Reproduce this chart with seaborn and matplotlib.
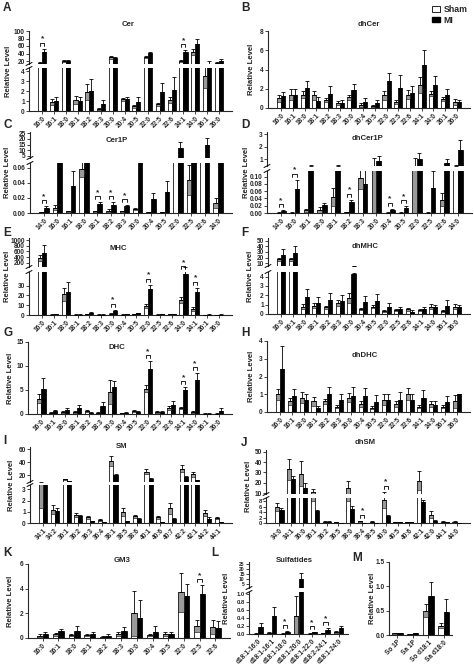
import numpy as np
import pandas as pd
import matplotlib
matplotlib.use('Agg')
import matplotlib.pyplot as plt
import seaborn as sns
from matplotlib.lines import Line2D
from matplotlib.patches import Patch

# ---------------- data ----------------
cer_lipids = ['16:0', '16:1', '18:0', '18:1', '18:2', '18:3', '20:0', '20:4',
              '20:5', '22:0', '22:5', '22:6', '24:1', '24:0', '26:1', '26:0']
mhc_lipids = ['16:0', '16:1', '18:0', '18:1', '18:2', '18:3', '20:0', '20:4',
              '20:5', '22:0', '22:5', '22:6', '24:0', '24:1', '26:1', '26:0']
cer1p_lipids = ['14:0', '16:0', '16:1', '18:0', '18:1', '18:2', '18:3', '20:0',
                '20:4', '20:5', '22:0', '22:5', '22:6', '24:0']
sm_lipids = ['34:1', '34:2', '36:1', '36:2', '36:3', '36:4', '38:1', '38:5',
             '38:6', '40:1', '40:6', '40:7', '42:2', '42:1', '44:2', '44:1']
dhsm_lipids = ['34:0', '34:1', '36:0', '36:1', '36:2', '36:5', '38:0', '38:4',
               '38:5', '40:0', '40:5', '40:6', '42:1', '42:0', '44:1', '44:0']
gm3_lipids = ['16:0', '16:1', '18:0', '18:1', '18:2', '18:3', '20:0', '20:4',
              '20:5', '22:0', '22:5', '22:6']
sulf_lipids = ['d18:1-16:0', 'd18:1-16:1', 'd18:1-18:0', 'd18:1-20:0',
               'd18:1-22:0', 'd18:2-24:1', 'd18:1-24:0']
sph_lipids = ['So 1P', 'Sa 1P', 'So d18:1', 'Sa d18:0']

# A  Cer
cer_sham = [16, 0.9, 20, 1.1, 1.9, 0.2, 30, 1.2, 0.5, 30, 0.7, 1.1, 20, 45, 3.5, 15]
cer_sham_err = [2, 0.3, 2, 0.4, 0.8, 0.1, 4, 0.15, 0.15, 3, 0.15, 0.3, 2, 8, 1.2, 1.5]
cer_mi = [45, 1.0, 20, 1.0, 2.0, 0.7, 28, 1.2, 0.9, 42, 1.9, 2.1, 45, 65, 10, 20]
cer_mi_err = [8, 0.4, 1.5, 0.4, 1.2, 0.4, 2, 0.2, 0.5, 3, 0.9, 1.3, 5, 15, 10, 5]
cer_sig = ['16:0', '24:1']

# B  dhCer
dhcer_sham = [1.0, 1.4, 1.4, 1.3, 0.8, 0.5, 1.1, 0.3, 0.2, 1.3, 0.6, 1.4, 2.4, 1.5, 0.9, 0.6]
dhcer_sham_err = [0.4, 0.6, 0.4, 0.5, 0.2, 0.2, 0.3, 0.2, 0.1, 0.5, 0.2, 0.5, 0.8, 0.3, 0.2, 0.3]
dhcer_mi = [1.2, 1.35, 2.1, 0.7, 1.5, 0.5, 1.9, 0.6, 0.5, 2.8, 2.1, 1.6, 4.5, 2.4, 1.4, 0.6]
dhcer_mi_err = [0.5, 0.6, 0.7, 0.4, 0.8, 0.3, 0.6, 0.4, 0.3, 0.8, 1.3, 0.7, 1.5, 0.9, 0.6, 0.2]
dhcer_sig = []

# C  Cer1P
cer1p_sham = [0.001, 0.007, 0.002, 0.058, 0.002, 0.003, 0.002, 0.005, 0.001, 0.001,
              1.0, 0.044, 1.0, 0.013]
cer1p_sham_err = [0.0005, 0.003, 0.001, 0.01, 0.001, 0.002, 0.001, 0.001, 0.0005, 0.0005,
                  0.2, 0.02, 0.2, 0.007]
cer1p_mi = [0.007, 1.0, 0.036, 1.0, 0.012, 0.011, 0.009, 1.0, 0.019, 0.028,
            12, 1.0, 15, 1.0]
cer1p_mi_err = [0.002, 0.2, 0.02, 0.2, 0.002, 0.003, 0.001, 0.2, 0.008, 0.014,
                5, 0.2, 6, 0.2]
cer1p_sig = ['14:0', '18:1', '18:2', '18:3']

# D  dhCer1P
dhcer1p_sham = [0.001, 0.001, 0.007, 0.008, 0.045, 0.002, 0.095, 0.3, 0.001, 0.001,
                0.3, 0.001, 0.037, 0.5]
dhcer1p_sham_err = [0.0005, 0.0005, 0.004, 0.008, 0.025, 0.001, 0.03, 0.8, 0.0005, 0.0005,
                    0.8, 0.0005, 0.018, 0.05]
dhcer1p_mi = [0.006, 0.065, 0.5, 0.022, 0.5, 0.029, 0.08, 0.9, 0.009, 0.014,
              1.0, 0.07, 0.7, 1.7]
dhcer1p_mi_err = [0.002, 0.027, 0.05, 0.006, 0.05, 0.008, 0.045, 0.4, 0.003, 0.005,
                  0.5, 0.045, 0.3, 0.8]
dhcer1p_sig = ['14:0', '16:0', '18:2', '20:4', '20:5']

# E  MHC
mhc_sham = [380, 0.5, 21, 0.5, 1.0, 0.5, 1.5, 0.5, 1.0, 9, 0.5, 0.8, 15, 6, 0.3, 0.3]
mhc_sham_err = [100, 0.2, 7, 0.2, 0.5, 0.2, 0.5, 0.2, 0.4, 2, 0.2, 0.3, 3, 2, 0.1, 0.1]
mhc_mi = [560, 0.7, 24, 0.5, 2.0, 0.5, 4.5, 1.0, 2.0, 27, 1.0, 1.0, 42, 24, 0.5, 0.4]
mhc_mi_err = [250, 0.3, 10, 0.2, 1.0, 0.2, 1.0, 0.4, 0.5, 4, 0.4, 0.3, 3, 4, 0.2, 0.2]
mhc_sig = ['20:0', '22:0', '24:0', '24:1']

# F  dhMHC
dhmhc_sham = [17, 17, 0.8, 0.9, 0.7, 1.2, 1.7, 0.5, 0.8, 0.35, 0.4, 0.5, 0.4, 0.8, 0.3, 0.8]
dhmhc_sham_err = [3, 3, 0.3, 0.3, 0.2, 0.3, 0.5, 0.1, 0.2, 0.1, 0.1, 0.15, 0.1, 0.3, 0.1, 0.3]
dhmhc_mi = [25, 28, 1.8, 1.2, 1.5, 1.4, 4.25, 1.3, 1.4, 0.8, 0.5, 0.25, 0.5, 0.7, 0.9, 0.7]
dhmhc_mi_err = [10, 12, 0.9, 0.6, 0.7, 0.6, 0.1, 0.6, 0.7, 0.4, 0.3, 0.2, 0.3, 0.3, 0.6, 0.3]
dhmhc_sig = []

# G  DHC
dhc_sham = [3.2, 0.3, 0.4, 0.5, 0.6, 0.3, 4.5, 0.2, 0.6, 5.3, 0.4, 1.3, 1.2, 0.4, 0.1, 0.1]
dhc_sham_err = [1.0, 0.1, 0.2, 0.2, 0.2, 0.2, 2.5, 0.1, 0.2, 0.8, 0.2, 0.4, 0.2, 0.2, 0.05, 0.05]
dhc_mi = [5.2, 0.6, 0.8, 1.2, 0.3, 1.6, 5.7, 0.3, 0.4, 9.3, 0.5, 1.8, 5.0, 7.0, 0.1, 0.7]
dhc_mi_err = [2.3, 0.3, 0.4, 0.6, 0.2, 1.0, 1.2, 0.2, 0.2, 1.7, 0.2, 0.9, 0.6, 1.5, 0.05, 0.5]
dhc_sig = ['22:0', '24:1', '24:0']

# H  dhDHC
dhdhc_sham = [1.0, 0.6, 0.8, 0.6, 0.6, 0.3, 0.8, 0.45, 0.25, 0.7, 0.45, 1.0, 0.3, 0.45, 0.3, 0.6]
dhdhc_sham_err = [0.3, 0.2, 0.3, 0.25, 0.15, 0.1, 0.25, 0.15, 0.1, 0.3, 0.15, 0.35, 0.1, 0.15, 0.1, 0.35]
dhdhc_mi = [2.4, 0.9, 0.7, 0.25, 1.0, 0.7, 0.9, 0.9, 0.55, 0.7, 0.7, 0.65, 0.8, 0.4, 0.55, 1.0]
dhdhc_mi_err = [1.3, 0.4, 0.3, 0.1, 0.4, 0.3, 0.5, 0.45, 0.4, 0.3, 0.4, 0.35, 0.45, 0.2, 0.35, 0.0]
dhdhc_sig = []

# I  SM
sm_sham = [5, 1.2, 13, 0.7, 0.5, 0.3, 42, 1.0, 0.6, 25, 0.5, 1.3, 30, 21, 0.9, 0.45]
sm_sham_err = [3.7, 0.4, 1, 0.15, 0.15, 0.1, 8, 0.35, 0.15, 4, 0.15, 0.5, 5, 4, 0.3, 0.1]
sm_mi = [5, 1.1, 10.5, 0.6, 0.15, 0.1, 20, 0.15, 0.35, 14, 0.05, 0.35, 17, 12, 0.4, 0.1]
sm_mi_err = [0.5, 0.2, 0.5, 0.1, 0.05, 0.03, 2, 0.05, 0.1, 1, 0.02, 0.1, 1, 0.5, 0.1, 0.03]
sm_sig = []

# J  dhSM
dhsm_sham = [5.7, 33, 29, 11, 0.5, 0.3, 15, 0.6, 0.5, 8.5, 0.4, 0.4, 22, 3.0, 0.5, 0.5]
dhsm_sham_err = [1.5, 10, 12, 3, 0.1, 0.1, 7, 0.3, 0.2, 3, 0.1, 0.1, 9, 1.3, 0.1, 0.1]
dhsm_mi = [4.6, 24, 15, 4.2, 0.5, 0.1, 5, 0.05, 0.05, 2.4, 0.3, 0.2, 7.5, 0.9, 0.2, 0.1]
dhsm_mi_err = [0.7, 3, 5, 0.7, 0.1, 0.05, 1.2, 0.02, 0.02, 0.6, 0.1, 0.05, 1, 0.2, 0.05, 0.05]
dhsm_sig = ['38:4', '40:0']

# K  GM3
gm3_sham = [0.2, 0.3, 0.25, 0.25, 0.1, 0.35, 2.0, 0.25, 0.3, 3.7, 1.0, 0.9]
gm3_sham_err = [0.1, 0.1, 0.1, 0.1, 0.05, 0.15, 1.8, 0.1, 0.15, 1.6, 0.5, 0.6]
gm3_mi = [0.3, 0.6, 0.6, 0.3, 0.2, 0.55, 1.6, 0.5, 0.3, 3.4, 3.6, 0.8]
gm3_mi_err = [0.15, 0.15, 0.35, 0.2, 0.15, 0.35, 1.5, 0.5, 0.2, 1.0, 0.7, 0.6]
gm3_sig = ['22:5']

# L  Sulfatides
sulf_sham = [0.01, 0.03, 0.01, 0.46, 0.01, 0.02, 0.05]
sulf_sham_err = [0.005, 0.01, 0.005, 0.5, 0.005, 0.01, 0.02]
sulf_mi = [0.18, 0.45, 0.06, 10, 0.04, 0.1, 0.16]
sulf_mi_err = [0.1, 0.22, 0.02, 6, 0.01, 0.04, 0.05]
sulf_sig = ['d18:1-18:0', 'd18:1-22:0', 'd18:2-24:1']

# M  sphingoid bases
sph_sham = [0.04, 0.02, 0.5, 0.19]
sph_sham_err = [0.01, 0.005, 0.14, 0.05]
sph_mi = [0.04, 0.04, 0.8, 0.48]
sph_mi_err = [0.01, 0.01, 0.28, 0.27]
sph_sig = []

# ---------------- style ----------------
sns.set_style('ticks')
plt.rcParams['font.family'] = ['Liberation Sans', 'DejaVu Sans']
plt.rcParams['font.weight'] = 'bold'
plt.rcParams['axes.linewidth'] = 0.8

W, H = 474, 669
fig = plt.figure(figsize=(W / 100, H / 100), dpi=100)
TICK_FS = 4.7


def px_axes(x0, x1, ytop, ybot):
    return fig.add_axes([x0 / W, 1 - ybot / H, (x1 - x0) / W, (ybot - ytop) / H])


def fig_xy(x, y):
    return x / W, 1 - y / H


def draw_bars(ax, cats, sham, sham_err, mi, mi_err):
    n = len(cats)
    df = pd.DataFrame({'lipid': cats * 2,
                       'group': ['Sham'] * n + ['MI'] * n,
                       'value': sham + mi})
    sns.barplot(data=df, x='lipid', y='value', hue='group', order=cats,
                hue_order=['Sham', 'MI'], palette={'Sham': 'white', 'MI': 'black'},
                edgecolor='black', linewidth=0.55, width=0.7, errorbar=None,
                legend=False, ax=ax)
    pos = []
    for k, (cont, means, errs) in enumerate(zip(ax.containers, [sham, mi], [sham_err, mi_err])):
        xs = np.array([p.get_x() + p.get_width() / 2 for p in cont.patches])
        w = cont.patches[0].get_width()
        means = np.array(means)
        errs = np.array(errs)
        if k == 0:
            # grey band showing the lower half of the SEM inside the open bars
            low = np.clip(means - errs, 0, None)
            ax.bar(xs, means - low, bottom=low, width=w, color='#999999',
                   edgecolor='black', linewidth=0.4, zorder=1.5)
        ax.errorbar(xs, means, yerr=[np.zeros_like(errs), errs], fmt='none',
                    ecolor='black', elinewidth=0.6, capsize=1.1, capthick=0.6, zorder=3)
        pos.append(xs)
    return pos


def add_panel(spec, cats, sham, sham_err, mi, mi_err, sig):
    axes, segs = [], spec['segs']
    seg_fs = spec.get('seg_fs', [TICK_FS] * len(segs))
    pos = None
    for k, (yt, yb, lo, hi, ticks, labels) in enumerate(segs):
        ax = px_axes(spec['x0'], spec['x1'], yt, yb)
        pos = draw_bars(ax, cats, sham, sham_err, mi, mi_err)
        ax.set_ylim(lo, hi)
        ax.set_yticks(ticks)
        ax.set_yticklabels(labels)
        ax.set_xlabel('')
        ax.set_ylabel('')
        sns.despine(ax=ax)
        ax.tick_params(labelsize=TICK_FS, length=2, width=0.6, pad=1)
        ax.tick_params(axis='y', labelsize=seg_fs[k])
        if k < len(segs) - 1:
            ax.spines['bottom'].set_visible(False)
            ax.tick_params(axis='x', bottom=False, labelbottom=False)
        else:
            ax.set_xticks(range(len(cats)))
            ax.set_xticklabels(cats, rotation=45, ha='right', rotation_mode='anchor',
                               fontsize=TICK_FS)
        axes.append(ax)

    # break marks on the y axis
    for k in range(len(segs) - 1):
        for y in (segs[k][1], segs[k + 1][0]):
            x0 = spec['x0']
            fig.add_artist(Line2D([(x0 - 3) / W, (x0 + 3) / W],
                                  [1 - (y + 1.5) / H, 1 - (y - 1.5) / H],
                                  color='black', lw=0.7))

    # significance brackets
    for name in sig:
        i = cats.index(name)
        top = max(sham[i] + sham_err[i], mi[i] + mi_err[i])
        ax = axes[-1]
        for k, seg in enumerate(segs):
            if top >= seg[2]:
                ax = axes[k]
                break
        lo, hi = ax.get_ylim()
        top = min(top, hi)
        xa, xb = pos[0][i], pos[1][i]
        _, py = ax.transData.transform((xa, top))
        inv = ax.transData.inverted()
        y_br = inv.transform((0, py + 6))[1]
        y_leg = inv.transform((0, py + 3))[1]
        ax.plot([xa, xa, xb, xb], [y_leg, y_br, y_br, y_leg], color='black',
                lw=0.6, clip_on=False, zorder=4)
        ax.text((xa + xb) / 2, y_br, '*', ha='center', va='bottom', fontsize=6,
                fontweight='bold', clip_on=False)

    # labels
    fig.text(*fig_xy(*spec['letter_xy']), spec['letter'], fontsize=8.5,
             fontweight='bold', ha='left', va='center')
    if spec['title']:
        fig.text(*fig_xy(*spec['title_xy']), spec['title'], fontsize=5.6,
                 fontweight='bold', ha='center', va='center')
    yc = (segs[0][0] + segs[-1][1]) / 2
    fig.text(*fig_xy(spec['ylab_x'], yc), 'Relative Level', rotation=90,
             fontsize=5.6, fontweight='bold', ha='center', va='center')


def tk(vals, fmt='{:g}'):
    return vals, [fmt.format(v) for v in vals]


# ---------------- layout (pixels) ----------------
panels = [
    (dict(letter='A', letter_xy=(3, 8), title='Cer', title_xy=(128, 25),
          x0=29, x1=232, ylab_x=9,
          segs=[(31, 64, 12, 100, *tk([20, 40, 60, 80, 100])),
                (68, 111, 0, 4.3, *tk([0, 1, 2, 3, 4]))]),
     cer_lipids, cer_sham, cer_sham_err, cer_mi, cer_mi_err, cer_sig),
    (dict(letter='B', letter_xy=(241, 8), title='dhCer', title_xy=(369, 25),
          x0=268, x1=470, ylab_x=252,
          segs=[(31, 108, 0, 8, *tk([0, 2, 4, 6, 8]))]),
     cer_lipids, dhcer_sham, dhcer_sham_err, dhcer_mi, dhcer_mi_err, dhcer_sig),
    (dict(letter='C', letter_xy=(3, 125), title='Cer1P', title_xy=(117, 140),
          x0=30, x1=232, ylab_x=8,
          segs=[(132, 158, 3, 26.2, *tk([5, 10, 15, 20, 25])),
                (163, 213, 0, 0.066, *tk([0, 0.02, 0.04, 0.06], '{:.2f}'))]),
     cer1p_lipids, cer1p_sham, cer1p_sham_err, cer1p_mi, cer1p_mi_err, cer1p_sig),
    (dict(letter='D', letter_xy=(241, 125), title='dhCer1P', title_xy=(367, 138),
          x0=267, x1=472, ylab_x=246,
          segs=[(132, 166, 0.47, 3.16, *tk([1, 2, 3])),
                (171, 213, 0, 0.1155, *tk([0, 0.02, 0.04, 0.06, 0.08, 0.10], '{:.2f}'))]),
     cer1p_lipids, dhcer1p_sham, dhcer1p_sham_err, dhcer1p_mi, dhcer1p_mi_err, dhcer1p_sig),
    (dict(letter='E', letter_xy=(3, 233), title='MHC', title_xy=(118, 248),
          x0=29, x1=232, ylab_x=8,
          segs=[(238, 267, 60, 1070, *tk([200, 400, 600, 800, 1000])),
                (272, 315, 0, 44, *tk([0, 10, 20, 30]))]),
     mhc_lipids, mhc_sham, mhc_sham_err, mhc_mi, mhc_mi_err, mhc_sig),
    (dict(letter='F', letter_xy=(241, 233), title='dhMHC', title_xy=(365, 247),
          x0=268, x1=470, ylab_x=250,
          segs=[(238, 266, 5, 54.6, *tk([10, 20, 30, 40, 50])),
                (272, 314, 0, 4.5, *tk([0, 1, 2, 3, 4]))]),
     cer_lipids, dhmhc_sham, dhmhc_sham_err, dhmhc_mi, dhmhc_mi_err, dhmhc_sig),
    (dict(letter='G', letter_xy=(3, 333), title='DHC', title_xy=(117, 348),
          x0=28, x1=232, ylab_x=11,
          segs=[(342, 414, 0, 15, *tk([0, 5, 10, 15]))]),
     cer_lipids, dhc_sham, dhc_sham_err, dhc_mi, dhc_mi_err, dhc_sig),
    (dict(letter='H', letter_xy=(241, 333), title='dhDHC', title_xy=(365, 355),
          x0=267, x1=470, ylab_x=252,
          segs=[(341, 412, 0, 4, *tk([0, 1, 2, 3, 4]))]),
     cer_lipids, dhdhc_sham, dhdhc_sham_err, dhdhc_mi, dhdhc_mi_err, dhdhc_sig),
    (dict(letter='I', letter_xy=(3, 441), title='SM', title_xy=(122, 447),
          x0=30, x1=232, ylab_x=12,
          segs=[(447, 482, 9.1, 63.6, *tk([20, 40, 60])),
                (485, 523, 0, 3.38, *tk([0, 1, 2, 3]))]),
     sm_lipids, sm_sham, sm_sham_err, sm_mi, sm_mi_err, sm_sig),
    (dict(letter='J', letter_xy=(241, 443), title='dhSM', title_xy=(365, 442),
          x0=266, x1=470, ylab_x=249,
          segs=[(450, 494, 9.3, 51.6, *tk([10, 20, 30, 40, 50])),
                (498, 523, 0, 9.1, *tk([0, 2, 4, 6, 8]))],
          seg_fs=[TICK_FS, 4.2]),
     dhsm_lipids, dhsm_sham, dhsm_sham_err, dhsm_mi, dhsm_mi_err, dhsm_sig),
    (dict(letter='K', letter_xy=(3, 553), title='GM3', title_xy=(122, 560),
          x0=28, x1=230, ylab_x=11,
          segs=[(564, 638, 0, 6, *tk([0, 2, 4, 6]))]),
     gm3_lipids, gm3_sham, gm3_sham_err, gm3_mi, gm3_mi_err, gm3_sig),
    (dict(letter='L', letter_xy=(211, 553), title='Sulfatides', title_xy=(294, 560),
          x0=249, x1=348, ylab_x=227,
          segs=[(562, 588, 1.5, 27, *tk([5, 10, 15, 20, 25])),
                (592, 634, 0, 1.05, *tk([0, 0.2, 0.4, 0.6, 0.8, 1.0], '{:.1f}'))],
          seg_fs=[3.6, 4.2]),
     sulf_lipids, sulf_sham, sulf_sham_err, sulf_mi, sulf_mi_err, sulf_sig),
    (dict(letter='M', letter_xy=(352, 558), title='', title_xy=(0, 0),
          x0=389, x1=452, ylab_x=372,
          segs=[(562, 635, 0, 1.5, *tk([0, 0.5, 1.0, 1.5], '{:.1f}'))]),
     sph_lipids, sph_sham, sph_sham_err, sph_mi, sph_mi_err, sph_sig),
]

for spec, *rest in panels:
    add_panel(spec, *rest)

fig.legend(handles=[Patch(facecolor='white', edgecolor='black', lw=0.6, label='Sham'),
                    Patch(facecolor='black', edgecolor='black', label='MI')],
           loc='upper right', bbox_to_anchor=(473 / W, 1 - 0 / H), frameon=False,
           prop={'size': 6.3, 'weight': 'bold'}, handlelength=1.0, handleheight=0.6,
           handletextpad=0.4, labelspacing=0.15, borderaxespad=0.2)

fig.savefig('out.png', dpi=100)
